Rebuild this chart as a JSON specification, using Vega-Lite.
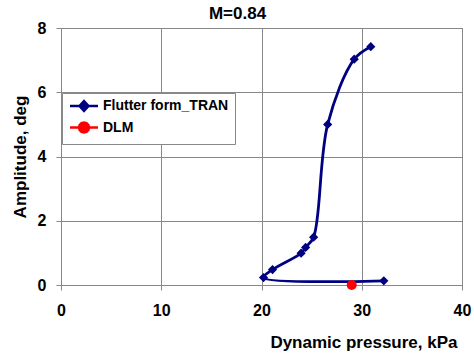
{
  "$schema": "https://vega.github.io/schema/vega-lite/v6.json",
  "width": 401,
  "height": 257,
  "autosize": {"type": "none"},
  "padding": {"left": 61, "top": 28, "right": 12, "bottom": 76},
  "background": "white",
  "title": {"text": "M=0.84", "font": "Liberation Sans", "fontSize": 17, "fontWeight": "bold", "anchor": "middle", "frame": "group", "dx": -24, "offset": -3, "color": "black"},
  "config": {
    "view": {"stroke": "#888888", "strokeWidth": 1},
    "axis": {
      "labelFont": "Liberation Sans", "labelFontSize": 16, "labelFontWeight": "bold", "labelColor": "black",
      "titleFont": "Liberation Sans", "titleFontSize": 17, "titleFontWeight": "bold", "titleColor": "black",
      "gridColor": "#888888", "gridWidth": 1, "gridOpacity": 1,
      "domainColor": "#888888", "tickColor": "#888888", "tickSize": 5,
      "labelFlush": false, "labelOverlap": false
    }
  },
  "data": {"values": [
    {"series": "Flutter form_TRAN", "order": 1, "q": 32.2, "amp": 0.13},
    {"series": "Flutter form_TRAN", "order": 2, "q": 20.2, "amp": 0.23},
    {"series": "Flutter form_TRAN", "order": 3, "q": 21.1, "amp": 0.48},
    {"series": "Flutter form_TRAN", "order": 4, "q": 23.95, "amp": 0.99},
    {"series": "Flutter form_TRAN", "order": 5, "q": 24.4, "amp": 1.17},
    {"series": "Flutter form_TRAN", "order": 6, "q": 25.2, "amp": 1.49},
    {"series": "Flutter form_TRAN", "order": 7, "q": 26.6, "amp": 5.0},
    {"series": "Flutter form_TRAN", "order": 8, "q": 29.25, "amp": 7.03},
    {"series": "Flutter form_TRAN", "order": 9, "q": 30.9, "amp": 7.42},
    {"series": "DLM", "order": 1, "q": 29.0, "amp": 0.0}
  ]},
  "layer": [
    {
      "mark": {"type": "line", "interpolate": "catmull-rom", "strokeWidth": 2.8},
      "encoding": {
        "x": {"field": "q", "type": "quantitative", "scale": {"domain": [0, 40], "nice": false},
              "axis": {"values": [0, 10, 20, 30, 40], "title": "Dynamic pressure, kPa", "titleAnchor": "end", "titleX": 396, "labelPadding": 12, "titlePadding": 16}},
        "y": {"field": "amp", "type": "quantitative", "scale": {"domain": [0, 8], "nice": false},
              "axis": {"values": [0, 2, 4, 6, 8], "title": "Amplitude, deg", "labelPadding": 10, "titlePadding": 8}},
        "order": {"field": "order", "type": "quantitative"},
        "color": {
          "field": "series", "type": "nominal",
          "scale": {"domain": ["Flutter form_TRAN", "DLM"], "range": ["#000080", "#ff0000"]},
          "legend": {
            "title": null, "orient": "none", "legendX": 1, "legendY": 65,
            "strokeColor": "#888888", "fillColor": "white", "padding": 6, "cornerRadius": 0,
            "symbolSize": 100, "symbolStrokeWidth": 2.5, "symbolType": "M-1,0L4.6,0",
            "labelFont": "Liberation Sans", "labelFontSize": 14, "labelFontWeight": "bold", "labelColor": "black",
            "labelOffset": 21, "rowPadding": 1.5,
            "encode": {"symbols": {"update": {
              "shape": {"signal": "datum.value === 'DLM' ? 'M-1,0L4.6,0M2.8,0L2.666,0.5L2.3,0.866L1.8,1L1.3,0.866L0.934,0.5L0.8,0L0.934,-0.5L1.3,-0.866L1.8,-1L2.3,-0.866L2.666,-0.5Z' : 'M-1,0L4.6,0M1.8,-1L2.7,0L1.8,1L0.9,0Z'"},
              "fill": {"scale": "color", "field": "value"},
              "stroke": {"scale": "color", "field": "value"},
              "strokeWidth": {"value": 2.5},
              "opacity": {"value": 1}
            }}}
          }
        }
      }
    },
    {
      "transform": [{"filter": "datum.series === 'Flutter form_TRAN'"}],
      "mark": {"type": "point", "shape": "diamond", "filled": true, "size": 85, "color": "#000080", "opacity": 1},
      "encoding": {
        "x": {"field": "q", "type": "quantitative"},
        "y": {"field": "amp", "type": "quantitative"}
      }
    },
    {
      "transform": [{"filter": "datum.series === 'DLM'"}],
      "mark": {"type": "point", "shape": "circle", "filled": true, "size": 100, "color": "#ff0000", "opacity": 1},
      "encoding": {
        "x": {"field": "q", "type": "quantitative"},
        "y": {"field": "amp", "type": "quantitative"}
      }
    }
  ]
}
